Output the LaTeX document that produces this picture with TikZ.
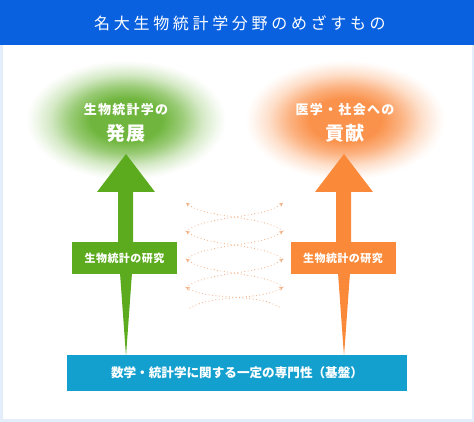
\documentclass[tikz,border=0pt]{standalone}
\usepackage{fontspec}
\newfontfamily\jp{Noto Sans CJK JP}
\newfontfamily\jptitle[LetterSpace=23]{Noto Sans CJK JP}
\newfontfamily\jpwide[LetterSpace=10]{Noto Sans CJK JP}
\newfontfamily\jpbox[LetterSpace=4]{Noto Sans CJK JP}
\usetikzlibrary{arrows.meta}
\definecolor{hdrblue}{RGB}{9,97,224}
\definecolor{edgeblue}{RGB}{228,238,250}
\definecolor{lgreen}{RGB}{92,171,30}
\definecolor{lorange}{RGB}{250,138,58}
\definecolor{gglow}{RGB}{112,182,62}
\definecolor{oglow}{RGB}{250,146,76}
\definecolor{basebox}{RGB}{20,160,206}
\definecolor{dotc}{RGB}{243,175,130}
\pgfdeclareradialshading{greenglow}{\pgfpoint{0bp}{0bp}}{color(0bp)=(gglow); color(9bp)=(gglow); color(14bp)=(gglow!70!white); color(19bp)=(gglow!30!white); color(23bp)=(gglow!8!white); color(25bp)=(white); color(50bp)=(white)}
\pgfdeclareradialshading{orangeglow}{\pgfpoint{0bp}{0bp}}{color(0bp)=(oglow); color(9bp)=(oglow); color(14bp)=(oglow!70!white); color(19bp)=(oglow!30!white); color(23bp)=(oglow!8!white); color(25bp)=(white); color(50bp)=(white)}
\tikzset{
  glowsmall/.style={text=white, inner sep=0pt, font=\jpwide\bfseries\fontsize{13}{13}\selectfont},
  glowbig/.style={text=white, inner sep=0pt, font=\jpwide\bfseries\fontsize{19}{19}\selectfont},
  resbox/.style={minimum width=105pt, minimum height=32pt, inner sep=0pt, text=white, font=\jpbox\bfseries\fontsize{11}{11}\selectfont},
  basestyle/.style={fill=basebox, minimum width=340pt, minimum height=36pt, inner sep=0pt, text=white, font=\jp\bfseries\fontsize{12.6}{12.6}\selectfont},
  dotarrow/.style={draw=dotc, line width=1.1pt, line cap=round, dash pattern=on 0pt off 3.4pt, -{Stealth[length=4pt,width=4pt,fill=dotc]}},
}
\begin{document}
\begin{tikzpicture}[x=1pt,y=-1pt]
\useasboundingbox (0,0) rectangle (474,422);
\fill[white] (0,0) rectangle (474,422);
% glows
\shade[shading=greenglow] (126,120) ellipse [x radius=100, y radius=60];
\shade[shading=orangeglow] (345,120) ellipse [x radius=100, y radius=60];
% header
\fill[hdrblue] (0,0) rectangle (474,45);
\node[text=white, inner sep=0pt, font=\jptitle\fontsize{16}{16}\selectfont] (title) at (240,23) {名大生物統計学分野のめざすもの};
% frame edges
\fill[edgeblue] (0,45) rectangle (2.5,422);
\fill[edgeblue] (471.5,45) rectangle (474,422);
\fill[edgeblue] (0,419) rectangle (474,422);
% glow texts
\node[glowsmall] (g1) at (126,110) {生物統計学の};
\node[glowbig] (g2) at (126,133) {発展};
\node[glowsmall] (o1) at (345,110) {医学・社会への};
\node[glowbig] (o2) at (345,133) {貢献};
% big arrows
\fill[lgreen] (126,154) -- (155,192) -- (133,192) -- (133,243) -- (118,243) -- (118,192) -- (97,192) -- cycle;
\fill[lgreen] (120,273) -- (132,273) -- (126,356) -- cycle;
\fill[lorange] (344,154) -- (373,192) -- (351,192) -- (351,243) -- (336,243) -- (336,192) -- (315,192) -- cycle;
\fill[lorange] (338,273) -- (350,273) -- (344,356) -- cycle;
% research boxes
\node[resbox, fill=lgreen] (gbox) at (124.5,258) {生物統計の研究};
\node[resbox, fill=lorange] (obox) at (343,258) {生物統計の研究};
% base box
\node[basestyle] (base) at (237,373) {数学・統計学に関する一定の専門性（基盤）};
% dotted exchange arrows
\coordinate (L1) at (186,203);
\coordinate (L2) at (186,231);
\coordinate (L3) at (186,259);
\coordinate (L4) at (186,287);
\coordinate (L5) at (190,308);
\coordinate (R1) at (283,203);
\coordinate (R2) at (283,231);
\coordinate (R3) at (283,259);
\coordinate (R4) at (283,287);
\coordinate (R5) at (279,307);
\draw[dotarrow] (L5) .. controls +(22,-14) and +(-22,14) .. (R4);
\draw[dotarrow] (R4) .. controls +(-22,-16) and +(22,16) .. (L3);
\draw[dotarrow] (L3) .. controls +(22,-16) and +(-22,16) .. (R2);
\draw[dotarrow] (R2) .. controls +(-22,-16) and +(22,16) .. (L1);
\draw[dotarrow] (R5) .. controls +(-22,-14) and +(22,14) .. (L4);
\draw[dotarrow] (L4) .. controls +(22,-16) and +(-22,16) .. (R3);
\draw[dotarrow] (R3) .. controls +(-22,-16) and +(22,16) .. (L2);
\draw[dotarrow] (L2) .. controls +(22,-16) and +(-22,16) .. (R1);
\end{tikzpicture}
\end{document}
